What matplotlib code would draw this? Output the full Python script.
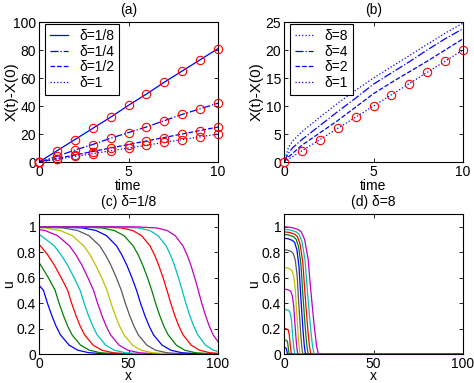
import matplotlib
matplotlib.use("Agg")
import matplotlib.pyplot as plt

plt.rcParams["font.family"] = ["Liberation Sans", "DejaVu Sans"]
plt.rcParams["axes.linewidth"] = 0.8

# ---- (a) front position vs time, small delta --------------------------------
T = [0, 1, 2, 3, 4, 5, 6, 7, 8, 9, 10]
A_D8TH = [0, 8, 16, 24, 32, 40.5, 48.5, 57, 65, 73, 81]
A_D4TH = [0, 4, 8.5, 12.5, 17, 21, 25, 29.5, 34, 38, 42]
A_HALF = [0, 2.5, 5, 7.5, 10, 12.5, 15, 17.5, 20, 22.5, 25]
A_ONE = [0, 2, 4, 6, 8, 10, 12, 14, 16, 18, 20]

# ---- (b) front position vs time, large delta --------------------------------
TB = [0, 0.25, 0.5, 1, 2, 3, 4, 5, 6, 7, 8, 9, 10]
B_D8 = [0, 2.6, 3.8, 5.4, 8, 10.5, 12.8, 15, 17, 19, 21, 23, 24.8]
B_D4 = [0, 1.6, 2.6, 4, 6.5, 9, 11.4, 13.9, 15.9, 17.9, 20, 22, 23.8]
B_D2 = [0, 0.9, 1.6, 3, 5.2, 7.4, 9.8, 12.2, 14.2, 16.1, 18, 20, 22]
B_D1 = [0, 0.5, 1, 2, 4, 6, 8, 10, 12, 14, 16, 18, 20]

# ---- (c) profiles u(x) for delta=1/8: x where each curve crosses a level ---
C_U = [1.0, 0.999, 0.99, 0.97, 0.93, 0.85, 0.78, 0.7, 0.6, 0.5, 0.4,
       0.3, 0.22, 0.15, 0.07, 0.03, 0.01, 0.002, 0.0]
C_X = [
    [-200, -101, -66.5, -49.7, -36.4, -23.5, -16.6, -10.3, -3.6, 2.5, 4.7, 7.2, 9.5, 12.0, 16.8, 21.6, 27.8, 36.6, 150],
    [-200, -56.6, -34.7, -24.1, -15.6, -7.4, -3.1, 0.9, 5.2, 9.0, 11.2, 13.7, 16.0, 18.5, 23.2, 28.1, 34.3, 43.1, 150],
    [-200, -44.7, -24.5, -14.6, -6.8, 0.8, 4.8, 8.5, 12.4, 16.0, 18.2, 20.7, 23.0, 25.5, 30.2, 35.1, 41.3, 50.1, 150],
    [-200, -35.0, -15.6, -6.2, 1.2, 8.5, 12.3, 15.9, 19.6, 23.0, 25.2, 27.7, 30.0, 32.5, 37.2, 42.1, 48.3, 57.1, 150],
    [-200, -23.3, -5.4, 3.4, 10.3, 17.0, 20.6, 23.9, 27.3, 30.5, 32.7, 35.2, 37.5, 40.0, 44.7, 49.6, 55.8, 64.6, 150],
    [-200, -13.8, 3.5, 11.9, 18.6, 25.0, 28.5, 31.6, 35.0, 38.0, 40.2, 42.7, 45.0, 47.5, 52.2, 57.1, 63.3, 72.1, 150],
    [-200, -2.3, 13.8, 21.6, 27.9, 33.9, 37.1, 40.1, 43.2, 46.0, 48.2, 50.7, 53.0, 55.5, 60.2, 65.1, 71.3, 80.1, 150],
    [-200, 9.7, 24.6, 31.9, 37.7, 43.3, 46.2, 49.0, 51.9, 54.5, 56.7, 59.2, 61.5, 64.0, 68.7, 73.6, 79.8, 88.6, 150],
    [-200, 21.6, 35.4, 42.1, 47.5, 52.6, 55.4, 57.9, 60.6, 63.0, 65.1, 67.5, 69.7, 72.2, 76.7, 81.4, 87.4, 95.9, 150],
    [-200, 33.6, 46.2, 52.4, 57.3, 62.0, 64.5, 66.8, 69.3, 71.5, 73.6, 75.9, 78.1, 80.5, 85.0, 89.6, 95.4, 103.7, 150],
    [-200, 44.1, 56.1, 61.9, 66.5, 71.0, 73.4, 75.6, 77.9, 80.0, 82.0, 84.3, 86.4, 88.7, 93.0, 97.4, 103.0, 111.0, 150],
    [-200, 54.5, 66.0, 71.6, 76.1, 80.4, 82.7, 84.8, 87.0, 89.0, 90.9, 93.1, 95.1, 97.3, 101.4, 105.7, 111.1, 118.8, 150],
]

# ---- (d) profiles u(x) for delta=8 ------------------------------------------
D_X = [
    [0, 0.4, 0.8, 1.0, 1.2, 1.4, 1.56, 1.7, 1.8, 1.9, 2.0, 100],
    [0, 0.6, 1.2, 1.5, 1.8, 2.1, 2.34, 2.55, 2.7, 2.85, 3.0, 100],
    [0, 0.84, 1.68, 2.1, 2.52, 2.94, 3.28, 3.57, 3.78, 3.99, 4.2, 100],
    [0, 1.2, 2.4, 3.0, 3.6, 4.2, 4.68, 5.1, 5.4, 5.7, 6.0, 100],
    [0, 1.54, 3.08, 3.85, 4.62, 5.39, 6.01, 6.55, 6.93, 7.32, 7.7, 100],
    [0, 1.8, 3.6, 4.5, 5.4, 6.3, 7.02, 7.65, 8.1, 8.55, 9.0, 100],
    [0, 2.1, 4.2, 5.25, 6.3, 7.35, 8.19, 8.93, 9.45, 9.98, 10.5, 100],
    [0, 2.4, 4.8, 6.0, 7.2, 8.4, 9.36, 10.2, 10.8, 11.4, 12.0, 100],
    [0, 2.7, 5.4, 6.75, 8.1, 9.45, 10.53, 11.48, 12.15, 12.83, 13.5, 100],
    [0, 3.0, 6.0, 7.5, 9.0, 10.5, 11.7, 12.75, 13.5, 14.25, 15.0, 100],
    [0, 3.36, 6.72, 8.4, 10.08, 11.76, 13.1, 14.28, 15.12, 15.96, 16.8, 100],
    [0, 3.84, 7.68, 9.6, 11.52, 13.44, 14.98, 16.32, 17.28, 18.24, 19.2, 100],
]
D_U = [
    [0.05, 0.05, 0.049, 0.048, 0.045, 0.038, 0.025, 0.015, 0.009, 0.003, 0, 0],
    [0.11, 0.109, 0.108, 0.106, 0.099, 0.083, 0.055, 0.033, 0.019, 0.007, 0, 0],
    [0.2, 0.199, 0.196, 0.192, 0.18, 0.15, 0.1, 0.06, 0.034, 0.012, 0, 0],
    [0.35, 0.348, 0.343, 0.336, 0.315, 0.263, 0.175, 0.105, 0.06, 0.021, 0, 0],
    [0.51, 0.507, 0.5, 0.49, 0.459, 0.383, 0.255, 0.153, 0.087, 0.031, 0, 0],
    [0.68, 0.677, 0.666, 0.653, 0.612, 0.51, 0.34, 0.204, 0.116, 0.041, 0, 0],
    [0.82, 0.816, 0.804, 0.787, 0.738, 0.615, 0.41, 0.246, 0.139, 0.049, 0, 0],
    [0.91, 0.905, 0.892, 0.874, 0.819, 0.683, 0.455, 0.273, 0.155, 0.055, 0, 0],
    [0.94, 0.935, 0.921, 0.902, 0.846, 0.705, 0.47, 0.282, 0.16, 0.056, 0, 0],
    [0.96, 0.955, 0.941, 0.922, 0.864, 0.72, 0.48, 0.288, 0.163, 0.058, 0, 0],
    [0.98, 0.975, 0.96, 0.941, 0.882, 0.735, 0.49, 0.294, 0.167, 0.059, 0, 0],
    [1.0, 0.995, 0.98, 0.96, 0.9, 0.75, 0.5, 0.3, 0.17, 0.06, 0, 0],
]

# MATLAB's old default line colour order
MCOLORS = [(0, 0, 1), (0, 0.5, 0), (1, 0, 0), (0, 0.75, 0.75), (0.75, 0, 0.75),
           (0.75, 0.75, 0), (0.35, 0.35, 0.35)]

FS = 10


def matlab_axes(ax):
    ax.tick_params(direction="in", top=True, right=True, length=3, width=0.6,
                   labelsize=FS, pad=2)


fig = plt.figure(figsize=(4.74, 3.83), dpi=100)
W, H = 179 / 474, 140 / 383
ax_a = fig.add_axes([39 / 474, 1 - 162 / 383, W, H])
ax_b = fig.add_axes([284 / 474, 1 - 162 / 383, W, H])
ax_c = fig.add_axes([39 / 474, 1 - 354 / 383, W, H])
ax_d = fig.add_axes([284 / 474, 1 - 354 / 383, W, H])

blue = (0, 0, 1)
circ = dict(ls="none", marker="o", mfc="none", mec="red", ms=6, mew=0.8,
            clip_on=False, zorder=3)
# (a)
ax_a.plot(T, A_D8TH, "-", color=blue, lw=0.9, label="δ=1/8")
ax_a.plot(T, A_D4TH, "-.", color=blue, lw=0.9, label="δ=1/4")
ax_a.plot(T, A_HALF, "--", color=blue, lw=0.9, label="δ=1/2")
ax_a.plot(T, A_ONE, ":", color=blue, lw=0.9, label="δ=1")
for ys in (A_D8TH, A_D4TH, A_HALF, A_ONE):
    ax_a.plot(T, ys, **circ)
ax_a.set_xlim(0, 10)
ax_a.set_ylim(0, 100)
ax_a.set_xticks([0, 5, 10])
ax_a.set_yticks([0, 20, 40, 60, 80, 100])

# (b)
ax_b.plot(TB, B_D8, ":", color=blue, lw=0.9, label="δ=8")
ax_b.plot(TB, B_D4, "-.", color=blue, lw=0.9, label="δ=4")
ax_b.plot(TB, B_D2, "--", color=blue, lw=0.9, label="δ=2")
ax_b.plot(TB, B_D1, ":", color=blue, lw=0.9, label="δ=1")
ax_b.plot(T, A_ONE, **circ)
ax_b.set_xlim(0, 10)
ax_b.set_ylim(0, 25)
ax_b.set_xticks([0, 5, 10])
ax_b.set_yticks([0, 5, 10, 15, 20, 25])

for ax, title in ((ax_a, "(a)"), (ax_b, "(b)")):
    matlab_axes(ax)
    ax.set_title(title, fontsize=FS, pad=6)
    ax.set_xlabel("time", fontsize=FS, labelpad=0)
    ax.set_ylabel("X(t)-X(0)", fontsize=11)
    ax.yaxis.set_label_coords(-0.112, 0.5)
    leg = ax.legend(loc="upper left", bbox_to_anchor=(6 / 179, 1 - 2 / 140),
                    borderaxespad=0, fontsize=FS, frameon=True, fancybox=False,
                    edgecolor="black", framealpha=1, handlelength=1.3,
                    handletextpad=0.8, labelspacing=0.12, borderpad=0.35)
    leg.get_frame().set_linewidth(0.8)
    for t in leg.get_texts():
        t.set_ha("right")

# (c) and (d): successive snapshots, colours cycling like MATLAB
for k, xs in enumerate(C_X):
    ax_c.plot(xs, C_U, color=MCOLORS[k % 7], lw=0.9)
for k, (xs, us) in enumerate(zip(D_X, D_U)):
    ax_d.plot(xs, us, color=MCOLORS[k % 7], lw=0.9)

for ax, title in ((ax_c, "(c) δ=1/8"), (ax_d, "(d) δ=8")):
    matlab_axes(ax)
    ax.set_xlim(0, 100)
    ax.set_ylim(0, 1.1)
    ax.set_xticks([0, 50, 100])
    ax.set_yticks([0, 0.2, 0.4, 0.6, 0.8, 1])
    ax.set_yticklabels(["0", "0.2", "0.4", "0.6", "0.8", "1"])
    ax.set_title(title, fontsize=FS, pad=6)
    ax.set_xlabel("x", fontsize=FS, labelpad=-1)
    ax.set_ylabel("u", fontsize=10)
    ax.yaxis.set_label_coords(-0.1257, 0.5)

fig.savefig("out.png", dpi=100)
